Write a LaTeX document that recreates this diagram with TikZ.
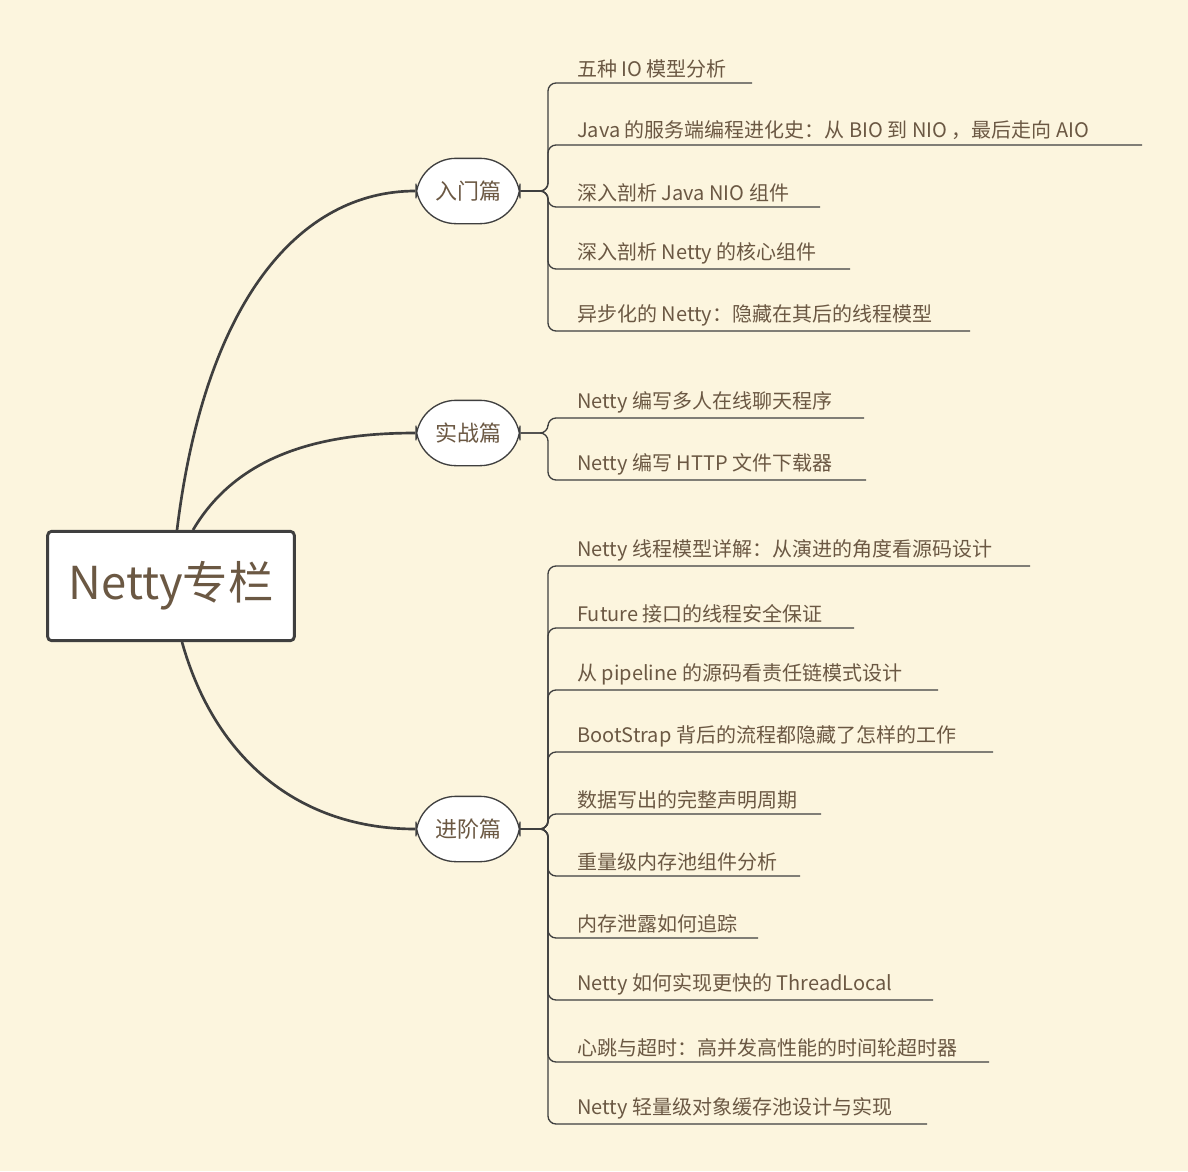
\documentclass[tikz,border=0pt]{standalone}
\usepackage{fontspec}
\setmainfont{Noto Sans CJK SC}
\begin{document}
\begin{tikzpicture}[x=0.75pt,y=-0.75pt,
  txt/.style={text=tc,font=\fontsize{15}{18}\selectfont,anchor=south west,inner sep=0pt},
  br/.style={draw=lc,line width=1pt,fill=white,rounded corners=30pt,minimum width=78pt,minimum height=49pt,text=tc,font=\fontsize{16.5}{20}\selectfont,inner sep=0pt},
  ln/.style={draw=lc,line width=1pt},
  cv/.style={draw=lc,line width=2pt}]
\definecolor{bg}{HTML}{FCF5DE}
\definecolor{tc}{HTML}{6B5843}
\definecolor{lc}{HTML}{3F3F3F}
\fill[bg] (0,0) rectangle (1188,1171);
\useasboundingbox (0,0) rectangle (1188,1171);
\node[draw=lc,line width=2.2pt,fill=white,rounded corners=3pt,minimum width=185pt,minimum height=82pt,text=tc,font=\fontsize{34}{40}\selectfont] (root) at (171,586) {Netty专栏};
\node[br] (b1) at (468,191) {入门篇};
\node[br] (b2) at (468,433) {实战篇};
\node[br] (b3) at (468,829) {进阶篇};
\coordinate (r1) at (177,530);
\coordinate (r2) at (193,530);
\coordinate (r3) at (182,642);
\draw[cv] (r1) .. controls (205,300) and (300,191) .. (b1.west);
\draw[cv] (r2) .. controls (240,450) and (330,433) .. (b2.west);
\draw[cv] (r3) .. controls (215,760) and (300,829) .. (b3.west);
\foreach \br/\by/\list in {b1/191/{83/752/五种 IO 模型分析,145/1142/Java 的服务端编程进化史：从 BIO 到 NIO ，最后走向 AIO,207/820/深入剖析 Java NIO 组件,269/850/深入剖析 Netty 的核心组件,331/970/异步化的 Netty：隐藏在其后的线程模型},
  b2/433/{418/864/Netty 编写多人在线聊天程序,480/866/Netty 编写 HTTP 文件下载器},
  b3/829/{566/1030/Netty 线程模型详解：从演进的角度看源码设计,628/854/Future 接口的线程安全保证,690/938/从 pipeline 的源码看责任链模式设计,752/993/BootStrap 背后的流程都隐藏了怎样的工作,814/821/数据写出的完整声明周期,876/800/重量级内存池组件分析,938/758/内存泄露如何追踪,1000/933/Netty 如何实现更快的 ThreadLocal,1062/989/心跳与超时：高并发高性能的时间轮超时器,1124/927/Netty 轻量级对象缓存池设计与实现}}{
  \foreach \uy/\ux/\t in \list {
    \node[txt] (t\br\uy) at (577,\uy-5) {\t};
    \draw[ln,rounded corners=6pt] (\br.east) -- (548,\by) -- (548,\uy) -- (\ux,\uy);
  }
}
\end{tikzpicture}
\end{document}
